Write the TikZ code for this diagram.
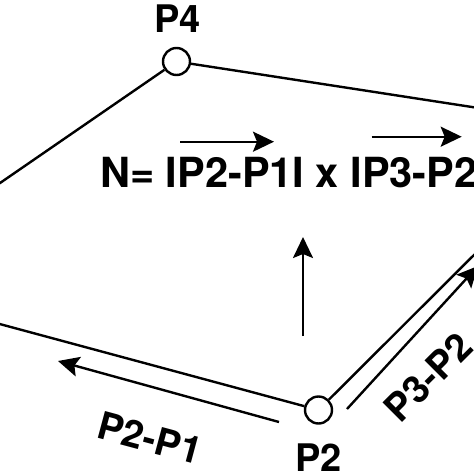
\documentclass[tikz,border=0pt]{standalone}
\usepackage{fontspec}
\setmainfont{TeX Gyre Heros}
\usetikzlibrary{arrows.meta}
\begin{document}
\begin{tikzpicture}[x=1pt,y=-1pt,
  ln/.style={line width=2.4pt, line cap=butt},
  pt/.style={circle, draw, line width=2.4pt, minimum size=27pt, inner sep=0pt, fill=white},
  vec/.style={line width=2.4pt, -{Stealth[length=21pt,width=20pt,inset=4pt]}},
  lab/.style={inner sep=0pt, font=\fontsize{38}{44}\selectfont\bfseries},
  big/.style={inner sep=0pt, font=\fontsize{41.5}{48}\selectfont\bfseries}]
\useasboundingbox (0,0) rectangle (474,474);
\clip (0,0) rectangle (474,474);
\fill[white] (0,0) rectangle (474,474);
% points
\node[pt] (p4) at (176.5,61.5) {};
\node[pt] (p2) at (318.5,410) {};
% free ends (outside picture)
\coordinate (l4) at (-20,196.8);
\coordinate (r4) at (494,110.4);
\coordinate (l2) at (-20,318.7);
\coordinate (r2) at (494,235);
\draw[ln] (p4) -- (l4);
\draw[ln] (p4) -- (r4);
\draw[ln] (p2) -- (l2);
\draw[ln] (p2) -- (r2);
% edge vectors
\coordinate (a1s) at (279,422);
\coordinate (a1e) at (58,361);
\draw[vec] (a1s) -- (a1e);
\coordinate (a2s) at (347,409);
\coordinate (a2e) at (478,266);
\draw[vec] (a2s) -- (a2e);
% normal
\coordinate (ns) at (303,336);
\coordinate (ne) at (303,237);
\draw[vec] (ns) -- (ne);
% over-arrows
\coordinate (o1s) at (180,141.7);
\coordinate (o1e) at (274,141.7);
\draw[vec] (o1s) -- (o1e);
\coordinate (o2s) at (371.7,136.7);
\coordinate (o2e) at (461.7,136.7);
\draw[vec] (o2s) -- (o2e);
% labels
\node[lab, anchor=base] (t4) at (177.5,32) {P4};
\node[lab, anchor=base] (t2) at (318.5,471) {P2};
\node[lab, rotate=-15] (t21) at (150,438) {P2-P1};
\node[lab, rotate=45] (t32) at (428,377) {P3-P2};
\node[big, anchor=base west] (eq) at (100,187) {N= IP2-P1I x IP3-P2};
\end{tikzpicture}
\end{document}
